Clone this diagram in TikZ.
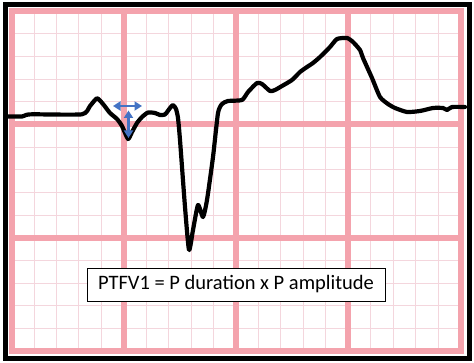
\documentclass[tikz,border=0pt]{standalone}
\usepackage{fontspec}
\setmainfont{Carlito}
\usetikzlibrary{arrows.meta}
\definecolor{gridpink}{RGB}{244,163,173}
\definecolor{finepink}{RGB}{244,214,221}
\definecolor{arrowblue}{RGB}{68,114,196}
\tikzstyle{Box} = [rectangle, draw=black, fill=white, line width=0.9pt, minimum width=298pt, minimum height=33pt, inner sep=0pt, font=\fontsize{20.5}{24}\selectfont]
\tikzstyle{trace} = [line width=4.2pt, line join=round, line cap=round]
\tikzstyle{measure} = [arrowblue, line width=2.6pt, {Triangle[length=7.5pt,width=9pt]}-{Triangle[length=7.5pt,width=9pt]}]
\tikzstyle{major} = [gridpink, line width=6pt]
\tikzstyle{minor} = [finepink, line width=0.9pt]

\begin{document}
\begin{tikzpicture}[x=1pt, y=-1pt]
\useasboundingbox (0,0) rectangle (474,363);
\fill[white] (0,0) rectangle (474,363);

% fine grid
\foreach \i in {0,...,20} \draw[minor] (11.5+\i*22.45,11) -- (11.5+\i*22.45,351);
\foreach \j in {0,...,15} \draw[minor] (11.5,11+\j*22.67) -- (460.5,11+\j*22.67);
% big squares
\foreach \i in {0,...,4} \draw[major] (11.5+\i*112.25,8) -- (11.5+\i*112.25,354);
\foreach \j in {0,...,3} \draw[major] (8.5,11+\j*113.33) -- (463.5,11+\j*113.33);

% ECG trace
\draw[trace] plot[smooth, tension=0.35] coordinates {
(8,116.5) (22,116.5) (26,115) (33,114.3) (82,114.3) (90,106) (97,98.3) (103,104)
(110,113) (117,119) (122,126) (128,139) (132,132) (137,123) (142,117) (148,112.5)
(155,113) (160,115) (165,114.5) (170,108) (173,105) (176,109) (178,118) (180,140)
(185,207) (189,250) (193,230) (198,205) (203,217) (207,200) (213,157) (218,113)
(222,104) (228,101) (242,100) (248,92) (257,83) (262,84) (270,91) (275,90) (282,86)
(292,80) (300,72) (307,67) (313,63) (320,57) (330,47) (337,39) (347,38) (353,42)
(360,50) (363,58) (372,78) (380,97) (388,104) (395,108) (407,112) (420,111)
(433,108) (443,108) (447,110) (452,107) (465,107)};

% P wave duration and amplitude
\coordinate (Pstart) at (113,106);
\coordinate (Pend) at (142,106);
\coordinate (Ptop) at (128.5,110.5);
\coordinate (Pbottom) at (128.5,138);
\draw[measure] (Pstart) -- (Pend);
\draw[measure] (Ptop) -- (Pbottom);

\node (Formula)[Box] at (236,284.5) {PTFV1 = P duration x P amplitude};

% frame
\draw[black, line width=5pt] (5.5,5) rectangle (469.5,358.5);
\end{tikzpicture}
\end{document}
